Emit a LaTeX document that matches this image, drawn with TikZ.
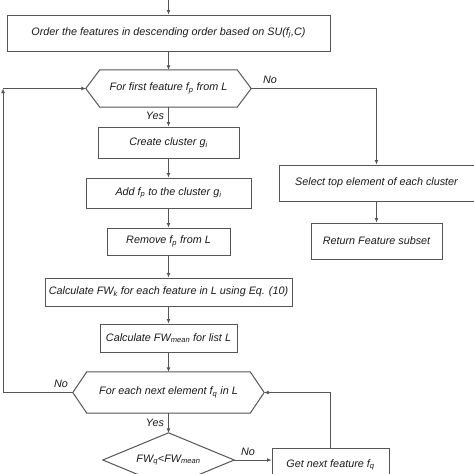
\documentclass[tikz,border=0pt]{standalone}
\usepackage{fontspec}
\setmainfont{Liberation Sans}
\usetikzlibrary{arrows.meta,calc}
\definecolor{linec}{HTML}{555555}
\definecolor{txt}{HTML}{1A1A1A}
\begin{document}
\begin{tikzpicture}[x=1pt,y=-1pt,
  lbl/.style={font=\itshape\fontsize{10.8}{12}\selectfont, text=txt, inner sep=0pt},
  box/.style={draw=linec, line width=1pt, fill=white, inner sep=0pt, font=\itshape\fontsize{10.8}{12}\selectfont, text=txt},
  ghost/.style={inner sep=0pt, font=\itshape\fontsize{10.8}{12}\selectfont, text=txt},
  outl/.style={draw=linec, line width=1pt},
  arr/.style={draw=linec, line width=1pt, -{Latex[length=4.5pt,width=4pt]}}]
\useasboundingbox (0,0) rectangle (474,474);
\clip (0,0) rectangle (474,474);
\fill[white] (0,0) rectangle (474,474);

% nodes
\coordinate (top) at (168.5,-2);
\node[box, minimum width=323pt, minimum height=36pt] (b1) at (168.5,33) {Order the features in descending order based on SU(f\textsubscript{j},C)};
\node[ghost, minimum width=165pt, minimum height=37pt] (h1) at (168.5,88.5) {For first feature f\textsubscript{p} from L};
\node[box, minimum width=141pt, minimum height=31pt] (cc) at (168.5,142.5) {Create cluster g\textsubscript{i}};
\node[box, minimum width=165pt, minimum height=30pt] (ad) at (168.5,193) {Add f\textsubscript{p} to the cluster g\textsubscript{i}};
\node[box, minimum width=123pt, minimum height=27pt] (rm) at (168.5,241.5) {Remove f\textsubscript{p} from L};
\node[box, minimum width=247pt, minimum height=28pt] (fk) at (168.5,292) {Calculate FW\textsubscript{k} for each feature in L using Eq. (10)};
\node[box, minimum width=137pt, minimum height=28pt] (fm) at (168.5,338) {Calculate FW\textsubscript{mean} for list L};
\node[ghost, minimum width=191pt, minimum height=41pt] (h2) at (168.5,392.5) {For each next element f\textsubscript{q} in L};
\node[ghost, minimum width=131pt, minimum height=54pt] (dia) at (168.5,460) {FW\textsubscript{q}<FW\textsubscript{mean}};
\node[box, minimum width=117pt, minimum height=34pt] (gn) at (330.5,465) {Get next feature f\textsubscript{q}};
\node[box, minimum width=195pt, minimum height=36pt] (sel) at (376.5,183) {Select top element of each cluster};
\node[box, minimum width=131pt, minimum height=36pt] (ret) at (376.5,241) {Return Feature subset};
\coordinate (lc) at (3,88.5);

% shapes
\draw[outl] (h1.west) -- ([xshift=14pt]h1.north west) -- ([xshift=-14pt]h1.north east) -- (h1.east) -- ([xshift=-14pt]h1.south east) -- ([xshift=14pt]h1.south west) -- cycle;
\draw[outl] (h2.west) -- ([xshift=14pt]h2.north west) -- ([xshift=-14pt]h2.north east) -- (h2.east) -- ([xshift=-14pt]h2.south east) -- ([xshift=14pt]h2.south west) -- cycle;
\draw[outl] (dia.west) -- (dia.north) -- (dia.east) -- (dia.south) -- cycle;

% connectors
\draw[arr] (top) -- (b1.north);
\draw[arr] (b1.south) -- (h1.north);
\draw[arr] (h1.south) -- (cc.north);
\draw[arr] (cc.south) -- (ad.north);
\draw[arr] (ad.south) -- (rm.north);
\draw[arr] (rm.south) -- (fk.north);
\draw[arr] (fk.south) -- (fm.north);
\draw[arr] (fm.south) -- (h2.north);
\draw[arr] (h2.south) -- (dia.north);
\draw[arr] (dia.east) -- (dia.east -| gn.west);
\draw[arr] (gn.north) |- (h2.east);
\draw[arr] (h2.west) -| (lc);
\draw[arr] (lc) -- (h1.west);
\draw[arr] (h1.east) -| (sel.north);
\draw[arr] (sel.south) -- (ret.north);

% labels
\node[lbl] at (270,80) {No};
\node[lbl] at (155,116) {Yes};
\node[lbl] at (61,384) {No};
\node[lbl] at (155,423) {Yes};
\node[lbl] at (248,452) {No};
\end{tikzpicture}
\end{document}
